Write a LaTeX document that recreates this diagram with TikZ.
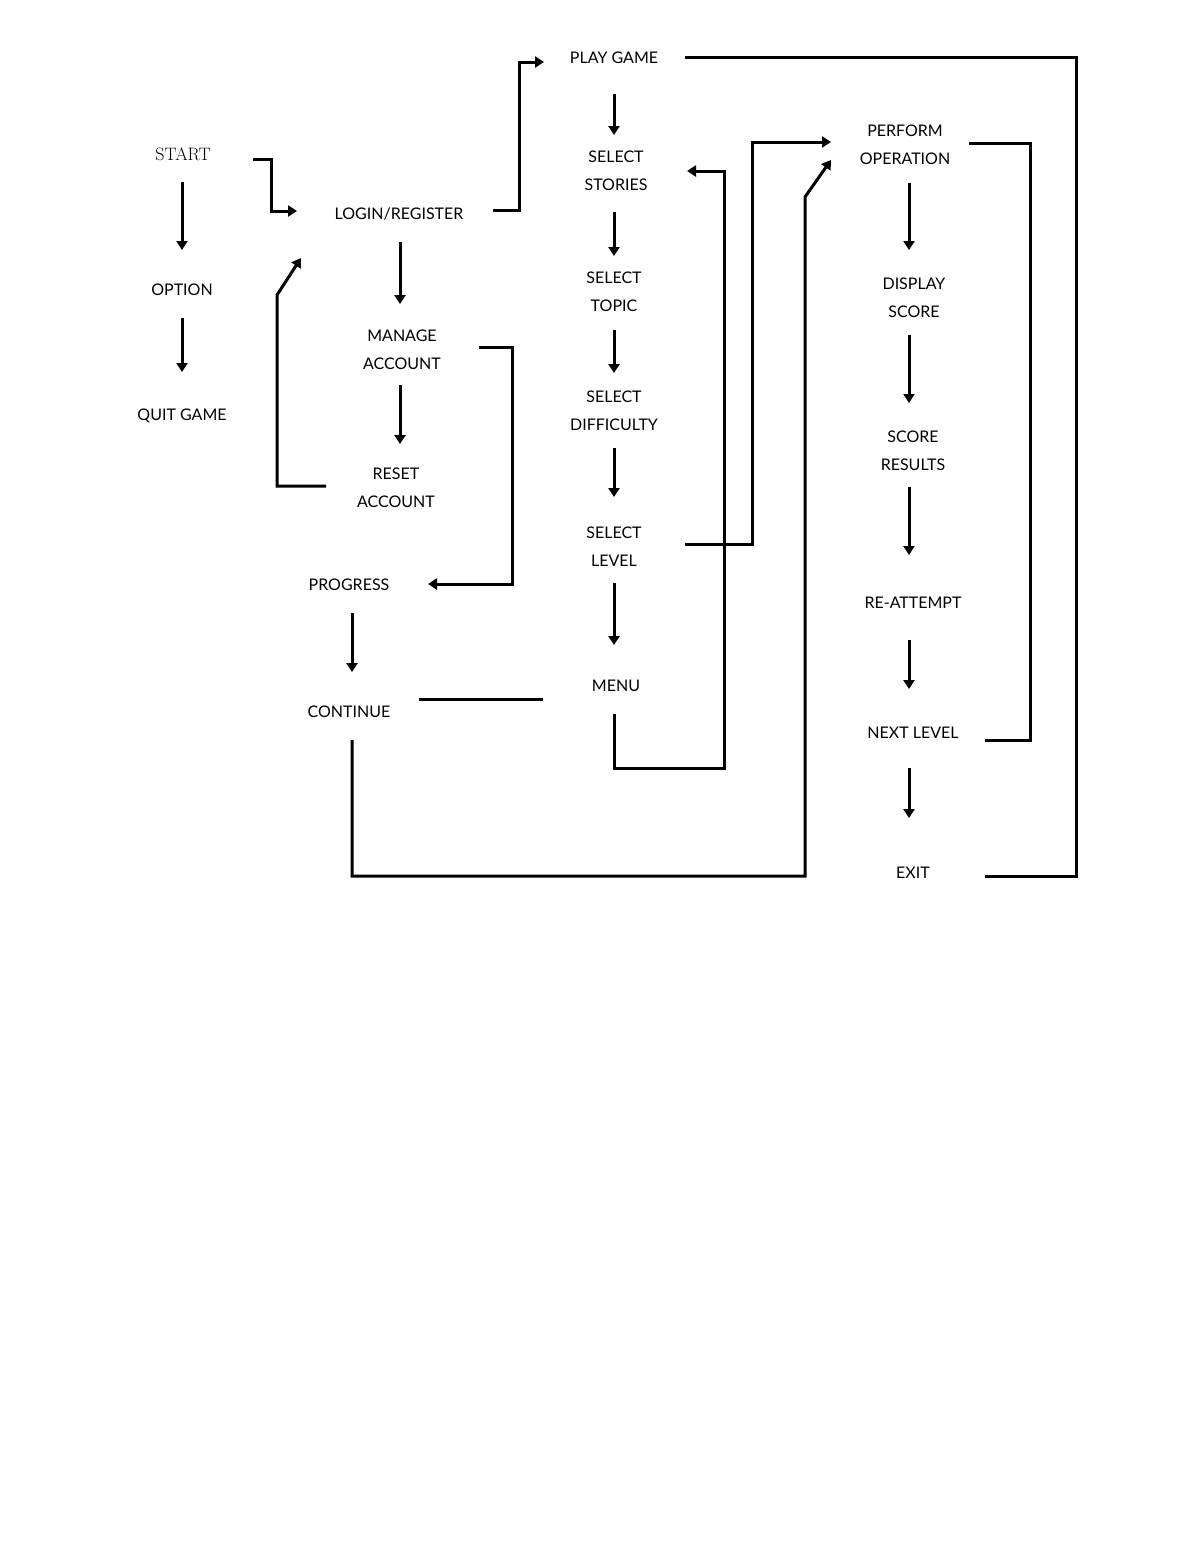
\documentclass[tikz,border=0pt]{standalone}
\usepackage{fontspec}
\setmainfont{Lato}
\newfontfamily\serifx{Latin Modern Roman}
\usetikzlibrary{calc,arrows.meta}
\begin{document}
\begin{tikzpicture}[x=1pt,y=-1pt,
  lbl/.style={font=\fontsize{16}{28}\selectfont,align=center,inner sep=0pt},
  ln/.style={line width=3pt},
  arr/.style={line width=3pt,-{Triangle[length=9pt,width=11pt]}}]
\useasboundingbox (0,0) rectangle (1200,1553);
\node[lbl,font=\serifx\fontsize{18}{22}\selectfont] (start) at (183,154) {START};
\node[lbl] (option) at (182,290) {OPTION};
\node[lbl] (quit) at (182,416) {QUIT GAME};
\node[lbl] (login) at (399,214) {LOGIN/REGISTER};
\node[lbl] (manage) at (402,350) {MANAGE\\ACCOUNT};
\node[lbl] (reset) at (396,488) {RESET\\ACCOUNT};
\node[lbl] (progress) at (349,585) {PROGRESS};
\node[lbl] (continue) at (349,712) {CONTINUE};
\node[lbl] (play) at (614,58) {PLAY GAME};
\node[lbl] (stories) at (616,171) {SELECT\\STORIES};
\node[lbl] (topic) at (614,292) {SELECT\\TOPIC};
\node[lbl] (diff) at (614,411) {SELECT\\DIFFICULTY};
\node[lbl] (level) at (614,547) {SELECT\\LEVEL};
\node[lbl] (menu) at (616,686) {MENU};
\node[lbl] (perform) at (905,145) {PERFORM\\OPERATION};
\node[lbl] (display) at (914,298) {DISPLAY\\SCORE};
\node[lbl] (results) at (913,451) {SCORE\\RESULTS};
\node[lbl] (reatt) at (913,603) {RE-ATTEMPT};
\node[lbl] (next) at (913,733) {NEXT LEVEL};
\node[lbl] (exit) at (913,873) {EXIT};
% left column
\draw[arr] ($(start)+(-1,28)$) -- ($(option)+(0,-40)$);
\draw[arr] ($(option)+(0,28)$) -- ($(quit)+(0,-44)$);
\draw[arr] ($(start)+(70,5)$) -| ($(start)+(88,57)$) -- ($(login)+(-102,-3)$);
\draw[arr] ($(login)+(94,-4)$) -| ($(play)+(-95,4)$) -- ($(play)+(-70,4)$);
\draw[arr] ($(login)+(1,28)$) -- ($(manage)+(-2,-46)$);
\draw[arr] ($(manage)+(-2,35)$) -- ($(reset)+(4,-44)$);
\draw[arr] ($(reset)+(-70,-2)$) -| ($(login)+(-122,81)$) -- ($(login)+(-98,44)$);
\draw[arr] ($(manage)+(77,-3)$) -| ($(progress)+(163,-1)$) -- ($(progress)+(79,-1)$);
\draw[arr] ($(progress)+(3,28)$) -- ($(continue)+(3,-40)$);
\draw[ln] ($(continue)+(70,-13)$) -- ($(menu)+(-73,13)$);
\draw[arr] ($(continue)+(3,28)$) |- ($(perform)+(-100,731)$) -- ($(perform)+(-100,52)$) -- ($(perform)+(-74,15)$);
% middle column
\draw[arr] ($(play)+(0,36)$) -- ($(stories)+(-2,-36)$);
\draw[arr] ($(stories)+(-2,41)$) -- ($(topic)+(0,-36)$);
\draw[arr] ($(topic)+(0,38)$) -- ($(diff)+(0,-38)$);
\draw[arr] ($(diff)+(0,37)$) -- ($(level)+(0,-50)$);
\draw[arr] ($(level)+(0,36)$) -- ($(menu)+(-2,-41)$);
\draw[arr] ($(level)+(71,-3)$) -| ($(perform)+(-153,-3)$) -- ($(perform)+(-74,-3)$);
\draw[arr] ($(menu)+(-2,28)$) |- ($(stories)+(108,597)$) -- ($(stories)+(108,0)$) -- ($(stories)+(71,0)$);
\draw[ln] ($(play)+(71,-1)$) -| ($(exit)+(163,3)$) -- ($(exit)+(72,3)$);
% right column
\draw[arr] ($(perform)+(4,38)$) -- ($(display)+(-5,-48)$);
\draw[arr] ($(display)+(-5,37)$) -- ($(results)+(-4,-48)$);
\draw[arr] ($(results)+(-4,36)$) -- ($(reatt)+(-4,-48)$);
\draw[arr] ($(reatt)+(-4,37)$) -- ($(next)+(-4,-44)$);
\draw[arr] ($(next)+(-4,35)$) -- ($(exit)+(-4,-55)$);
\draw[ln] ($(perform)+(64,-2)$) -| ($(next)+(117,7)$) -- ($(next)+(72,7)$);
\end{tikzpicture}
\end{document}
